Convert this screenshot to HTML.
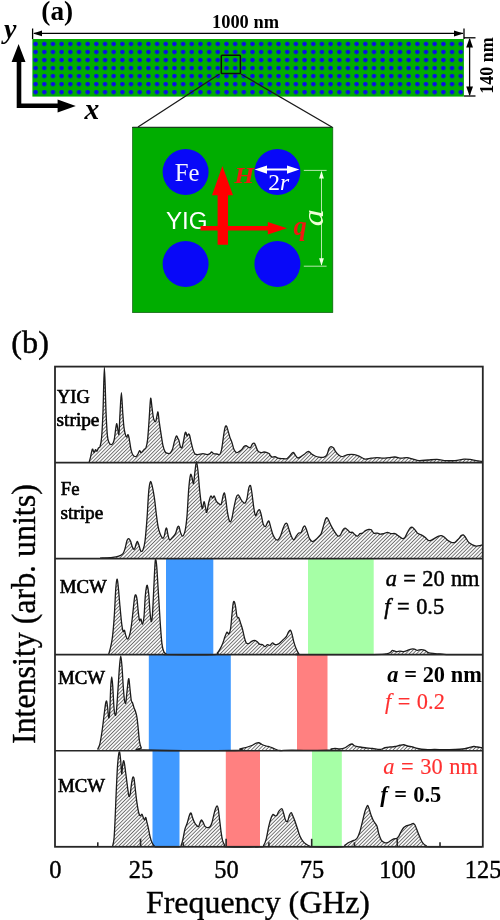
<!DOCTYPE html>
<html><head><meta charset="utf-8"><title>Figure</title>
<style>
html,body{margin:0;padding:0;background:#fff;}
body{width:500px;height:920px;overflow:hidden;}
svg{display:block;}
text{font-family:"Liberation Serif",serif;}
.b{font-weight:bold;}
.i{font-style:italic;}
.sans{font-family:"Liberation Sans",sans-serif;}
</style></head><body>
<svg width="500" height="920" viewBox="0 0 500 920">
<defs>
<pattern id="dots" x="31.262" y="40" width="8.676" height="8.03" patternUnits="userSpaceOnUse">
<ellipse cx="4.338" cy="4.02" rx="2.3" ry="2.15" fill="#0a0aec"/>
</pattern>
<pattern id="hatch" width="2.57" height="2.57" patternUnits="userSpaceOnUse" patternTransform="rotate(45)">
<line x1="1.28" y1="-1" x2="1.28" y2="4" stroke="#6a6a6a" stroke-width="0.95"/>
</pattern>
</defs>
<rect width="500" height="920" fill="#fff"/>

<text class="b" x="41.3" y="19.9" font-size="27.3">(a)</text>
<text class="b i" x="4" y="37.6" font-size="28">y</text>
<text class="b i" x="84.6" y="119" font-size="28.5" textLength="14.8" lengthAdjust="spacingAndGlyphs">x</text>
<path d="M16.7 108 V62 H11.6 L18.6 44 L25.5 62 H21.3 V103.4 H57.6 V99.6 L75.8 105.9 L57.6 112.5 V108 Z" fill="#000"/>
<rect x="32.4" y="39" width="431.5" height="57.6" fill="#00ad00"/>
<rect x="32.4" y="40" width="431.5" height="56.4" fill="url(#dots)"/>
<g stroke="#000" stroke-width="1.3" fill="none"><path d="M32.6 28.5 V39"/><path d="M464 28.5 V39"/><path d="M34 33.4 H463"/><path d="M464 37.8 H475.5"/><path d="M464 96 H475.5"/><path d="M469.6 39 V95"/></g>
<path d="M33 33.4 L42 30.6 V36.2 Z M463.6 33.4 L454 30.4 V36.4 Z M469.6 38 L466.2 47.5 H473 Z M469.6 96 L466.2 86.5 H473 Z" fill="#000"/>
<text class="b" x="212" y="27.6" font-size="18.3" textLength="67" lengthAdjust="spacingAndGlyphs">1000 nm</text>
<text class="b" font-size="18" text-anchor="middle" transform="translate(493.3,65.5) rotate(-90)">140 nm</text>
<rect x="221.3" y="55.2" width="19.1" height="18.4" rx="0.8" fill="none" stroke="#0c0c0c" stroke-width="1.5"/>
<path d="M219.6 74 L138 127 M240.8 74 L331.8 127" stroke="#1a1a1a" stroke-width="1.3" fill="none"/>
<rect x="132.6" y="127.4" width="200.2" height="185.2" fill="#00ad00" stroke="#0c5c0c" stroke-width="0.7"/>
<path d="M132.4 127.2 H333" stroke="#14301a" stroke-width="1.1" fill="none"/>
<circle cx="185.6" cy="172" r="23" fill="#0808f8"/>
<circle cx="277.4" cy="172" r="23" fill="#0808f8"/>
<circle cx="185.6" cy="264" r="23" fill="#0808f8"/>
<circle cx="277.4" cy="264" r="23" fill="#0808f8"/>
<text x="174.8" y="181" font-size="24.7" fill="#f4f4ff">Fe</text>
<text class="sans" x="166" y="228.6" font-size="23.5" fill="#fff" textLength="41.6" lengthAdjust="spacingAndGlyphs">YIG</text>
<path d="M217.6 244.7 V195.2 H212 L222.4 166 L233 195.2 H228 V244.7 Z" fill="#f00"/>
<path d="M200.5 225.9 H267.8 V221.9 L287 228.2 L267.8 234.5 V230.5 H200.5 Z" fill="#f00"/>
<text class="b i" x="234.3" y="183.4" font-size="24" fill="#ee1810" textLength="20" lengthAdjust="spacingAndGlyphs">H</text>
<text class="b i" x="293.6" y="235" font-size="26.5" fill="#ee1810">q</text>
<path d="M254.6 169.6 L267 165.4 V168.6 H287 V165.4 L299.4 169.6 L287 173.8 V170.6 H267 V173.8 Z" fill="#fff"/>
<text x="268.2" y="189.6" font-size="23.5" fill="#fff">2<tspan class="i">r</tspan></text>
<g stroke="#e4f8d8" stroke-width="0.8" fill="none"><path d="M303.8 170.4 H326.6"/><path d="M303.8 266.2 H326.6"/><path d="M321.5 172 V265"/></g>
<path d="M321.5 170.8 L319.1 178.4 H323.9 Z M321.5 265.8 L319.1 258.2 H323.9 Z" fill="#f4ffe8"/>
<text class="i" font-size="29.5" fill="#f0ffd8" text-anchor="middle" textLength="17" lengthAdjust="spacingAndGlyphs" transform="translate(323.4,217.8) rotate(-90)">a</text>
<text x="11.3" y="352.8" font-size="31.3" stroke="#000" stroke-width="0.45" textLength="37.6" lengthAdjust="spacingAndGlyphs">(b)</text>
<rect x="166.00" y="558.60" width="47.30" height="96.00" fill="#4099ff"/>
<rect x="308.00" y="558.60" width="65.70" height="96.00" fill="#a6ffa6"/>
<rect x="148.80" y="654.60" width="82.00" height="96.10" fill="#4099ff"/>
<rect x="297.00" y="654.60" width="30.50" height="96.10" fill="#ff8080"/>
<rect x="152.50" y="750.70" width="27.00" height="96.10" fill="#4099ff"/>
<rect x="225.80" y="750.70" width="34.20" height="96.10" fill="#ff8080"/>
<rect x="312.00" y="750.70" width="29.80" height="96.10" fill="#a6ffa6"/>
<path d="M89.00 462.60 C89.22 461.80 89.86 459.74 90.40 457.60 C90.94 455.46 91.82 450.00 92.40 449.20 C92.98 448.40 93.49 452.54 94.00 452.60 C94.51 452.66 95.12 449.82 95.60 449.60 C96.08 449.38 96.55 451.46 97.00 451.20 C97.45 450.94 97.92 448.74 98.40 448.00 C98.88 447.26 99.49 448.26 100.00 446.60 C100.51 444.94 101.12 443.20 101.60 437.60 C102.08 432.00 102.55 422.86 103.00 411.60 C103.45 400.34 103.92 367.20 104.40 367.20 C104.88 367.20 105.52 400.66 106.00 411.60 C106.48 422.54 106.92 430.64 107.40 435.60 C107.88 440.56 108.42 441.16 109.00 442.60 C109.58 444.04 110.36 444.50 111.00 444.60 C111.64 444.70 112.46 444.16 113.00 443.20 C113.54 442.24 113.98 440.78 114.40 438.60 C114.82 436.42 115.22 432.00 115.60 429.60 C115.98 427.20 116.42 423.44 116.80 423.60 C117.18 423.76 117.65 429.00 118.00 430.60 C118.35 432.20 118.68 436.32 119.00 433.60 C119.32 430.88 119.62 420.16 120.00 413.60 C120.38 407.04 120.95 392.60 121.40 392.60 C121.85 392.60 122.38 408.00 122.80 413.60 C123.22 419.20 123.58 424.24 124.00 427.60 C124.42 430.96 124.98 433.06 125.40 434.60 C125.82 436.14 126.18 437.20 126.60 437.20 C127.02 437.20 127.58 434.38 128.00 434.60 C128.42 434.82 128.72 436.20 129.20 438.60 C129.68 441.00 130.39 446.94 131.00 449.60 C131.61 452.26 132.20 454.08 133.00 455.20 C133.80 456.32 135.20 456.79 136.00 456.60 C136.80 456.41 137.42 454.96 138.00 454.00 C138.58 453.04 139.12 450.82 139.60 450.60 C140.08 450.38 140.55 452.44 141.00 452.60 C141.45 452.76 141.92 452.08 142.40 451.60 C142.88 451.12 143.42 450.24 144.00 449.60 C144.58 448.96 145.42 449.20 146.00 447.60 C146.58 446.00 147.12 443.76 147.60 439.60 C148.08 435.44 148.52 428.16 149.00 421.60 C149.48 415.04 150.12 400.84 150.60 398.60 C151.08 396.36 151.52 404.40 152.00 407.60 C152.48 410.80 153.02 416.36 153.60 418.60 C154.18 420.84 155.09 421.92 155.60 421.60 C156.11 421.28 156.42 418.14 156.80 416.60 C157.18 415.06 157.62 411.20 158.00 412.00 C158.38 412.80 158.72 418.14 159.20 421.60 C159.68 425.06 160.39 429.76 161.00 433.60 C161.61 437.44 162.36 442.72 163.00 445.60 C163.64 448.48 164.36 450.38 165.00 451.60 C165.64 452.82 166.20 452.94 167.00 453.20 C167.80 453.46 169.14 453.78 170.00 453.20 C170.86 452.62 171.70 451.46 172.40 449.60 C173.10 447.74 173.76 443.78 174.40 441.60 C175.04 439.42 175.82 436.48 176.40 436.00 C176.98 435.52 177.58 437.86 178.00 438.60 C178.42 439.34 178.62 439.32 179.00 440.60 C179.38 441.88 179.92 445.48 180.40 446.60 C180.88 447.72 181.52 448.40 182.00 447.60 C182.48 446.80 182.92 443.90 183.40 441.60 C183.88 439.30 184.58 434.64 185.00 433.20 C185.42 431.76 185.68 432.15 186.00 432.60 C186.32 433.05 186.62 435.78 187.00 436.00 C187.38 436.22 187.98 434.13 188.40 434.00 C188.82 433.87 189.18 433.98 189.60 435.20 C190.02 436.42 190.46 439.30 191.00 441.60 C191.54 443.90 192.36 447.62 193.00 449.60 C193.64 451.58 194.20 453.20 195.00 454.00 C195.80 454.80 196.72 454.66 198.00 454.60 C199.28 454.54 201.56 453.60 203.00 453.60 C204.44 453.60 205.88 454.60 207.00 454.60 C208.12 454.60 209.26 454.02 210.00 453.60 C210.74 453.18 211.02 452.00 211.60 452.00 C212.18 452.00 212.74 453.28 213.60 453.60 C214.46 453.92 216.04 453.84 217.00 454.00 C217.96 454.16 218.86 455.30 219.60 454.60 C220.34 453.90 220.96 452.64 221.60 449.60 C222.24 446.56 223.06 439.12 223.60 435.60 C224.14 432.08 224.55 429.14 225.00 427.60 C225.45 426.06 225.92 425.52 226.40 426.00 C226.88 426.48 227.42 428.74 228.00 430.60 C228.58 432.46 229.36 435.68 230.00 437.60 C230.64 439.52 231.36 440.68 232.00 442.60 C232.64 444.52 233.30 448.00 234.00 449.60 C234.70 451.20 235.60 452.28 236.40 452.60 C237.20 452.92 238.17 452.08 239.00 451.60 C239.83 451.12 240.80 450.40 241.60 449.60 C242.40 448.80 243.30 447.24 244.00 446.60 C244.70 445.96 245.30 445.50 246.00 445.60 C246.70 445.70 247.70 446.88 248.40 447.20 C249.10 447.52 249.76 448.11 250.40 447.60 C251.04 447.09 251.76 444.70 252.40 444.00 C253.04 443.30 253.82 442.78 254.40 443.20 C254.98 443.62 255.42 445.32 256.00 446.60 C256.58 447.88 257.20 450.24 258.00 451.20 C258.80 452.16 260.04 452.47 261.00 452.60 C261.96 452.73 263.04 452.00 264.00 452.00 C264.96 452.00 266.10 452.28 267.00 452.60 C267.90 452.92 269.12 453.58 269.60 454.00 C270.08 454.42 269.55 454.69 270.00 455.20 C270.45 455.71 271.60 456.98 272.40 457.20 C273.20 457.42 274.10 456.44 275.00 456.60 C275.90 456.76 276.88 457.88 278.00 458.20 C279.12 458.52 280.56 458.54 282.00 458.60 C283.44 458.66 285.72 459.08 287.00 458.60 C288.28 458.12 289.20 456.46 290.00 455.60 C290.80 454.74 291.42 453.68 292.00 453.20 C292.58 452.72 293.02 452.22 293.60 452.60 C294.18 452.98 294.90 454.74 295.60 455.60 C296.30 456.46 297.14 457.84 298.00 458.00 C298.86 458.16 300.04 457.14 301.00 456.60 C301.96 456.06 303.04 455.34 304.00 454.60 C304.96 453.86 306.20 452.48 307.00 452.00 C307.80 451.52 308.26 451.28 309.00 451.60 C309.74 451.92 310.64 453.30 311.60 454.00 C312.56 454.70 313.82 455.49 315.00 456.00 C316.18 456.51 317.56 457.01 319.00 457.20 C320.44 457.39 322.72 457.62 324.00 457.20 C325.28 456.78 326.20 455.98 327.00 454.60 C327.80 453.22 328.36 449.88 329.00 448.60 C329.64 447.32 330.26 446.70 331.00 446.60 C331.74 446.50 332.86 447.20 333.60 448.00 C334.34 448.80 334.74 450.45 335.60 451.60 C336.46 452.75 337.98 454.40 339.00 455.20 C340.02 456.00 341.04 456.54 342.00 456.60 C342.96 456.66 344.04 455.92 345.00 455.60 C345.96 455.28 346.48 454.76 348.00 454.60 C349.52 454.44 352.74 454.36 354.50 454.60 C356.26 454.84 357.32 455.38 359.00 456.10 C360.68 456.82 363.08 458.76 365.00 459.10 C366.92 459.44 369.08 458.44 371.00 458.20 C372.92 457.96 375.08 457.60 377.00 457.60 C378.92 457.60 381.08 458.20 383.00 458.20 C384.92 458.20 387.08 457.79 389.00 457.60 C390.92 457.41 393.08 456.90 395.00 457.00 C396.92 457.10 399.08 458.10 401.00 458.20 C402.92 458.30 405.08 457.46 407.00 457.60 C408.92 457.74 411.08 458.62 413.00 459.10 C414.92 459.58 416.60 460.46 419.00 460.60 C421.40 460.74 425.12 460.19 428.00 460.00 C430.88 459.81 434.12 459.30 437.00 459.40 C439.88 459.50 443.12 460.41 446.00 460.60 C448.88 460.79 452.12 460.84 455.00 460.60 C457.88 460.36 461.60 459.29 464.00 459.10 C466.40 458.91 468.08 459.16 470.00 459.40 C471.92 459.64 474.08 460.26 476.00 460.60 C477.92 460.94 481.04 461.36 482.00 461.50 L482.00 462.60 L89.00 462.60 Z" fill="url(#hatch)" stroke="none"/>
<path d="M89.00 462.60 C89.22 461.80 89.86 459.74 90.40 457.60 C90.94 455.46 91.82 450.00 92.40 449.20 C92.98 448.40 93.49 452.54 94.00 452.60 C94.51 452.66 95.12 449.82 95.60 449.60 C96.08 449.38 96.55 451.46 97.00 451.20 C97.45 450.94 97.92 448.74 98.40 448.00 C98.88 447.26 99.49 448.26 100.00 446.60 C100.51 444.94 101.12 443.20 101.60 437.60 C102.08 432.00 102.55 422.86 103.00 411.60 C103.45 400.34 103.92 367.20 104.40 367.20 C104.88 367.20 105.52 400.66 106.00 411.60 C106.48 422.54 106.92 430.64 107.40 435.60 C107.88 440.56 108.42 441.16 109.00 442.60 C109.58 444.04 110.36 444.50 111.00 444.60 C111.64 444.70 112.46 444.16 113.00 443.20 C113.54 442.24 113.98 440.78 114.40 438.60 C114.82 436.42 115.22 432.00 115.60 429.60 C115.98 427.20 116.42 423.44 116.80 423.60 C117.18 423.76 117.65 429.00 118.00 430.60 C118.35 432.20 118.68 436.32 119.00 433.60 C119.32 430.88 119.62 420.16 120.00 413.60 C120.38 407.04 120.95 392.60 121.40 392.60 C121.85 392.60 122.38 408.00 122.80 413.60 C123.22 419.20 123.58 424.24 124.00 427.60 C124.42 430.96 124.98 433.06 125.40 434.60 C125.82 436.14 126.18 437.20 126.60 437.20 C127.02 437.20 127.58 434.38 128.00 434.60 C128.42 434.82 128.72 436.20 129.20 438.60 C129.68 441.00 130.39 446.94 131.00 449.60 C131.61 452.26 132.20 454.08 133.00 455.20 C133.80 456.32 135.20 456.79 136.00 456.60 C136.80 456.41 137.42 454.96 138.00 454.00 C138.58 453.04 139.12 450.82 139.60 450.60 C140.08 450.38 140.55 452.44 141.00 452.60 C141.45 452.76 141.92 452.08 142.40 451.60 C142.88 451.12 143.42 450.24 144.00 449.60 C144.58 448.96 145.42 449.20 146.00 447.60 C146.58 446.00 147.12 443.76 147.60 439.60 C148.08 435.44 148.52 428.16 149.00 421.60 C149.48 415.04 150.12 400.84 150.60 398.60 C151.08 396.36 151.52 404.40 152.00 407.60 C152.48 410.80 153.02 416.36 153.60 418.60 C154.18 420.84 155.09 421.92 155.60 421.60 C156.11 421.28 156.42 418.14 156.80 416.60 C157.18 415.06 157.62 411.20 158.00 412.00 C158.38 412.80 158.72 418.14 159.20 421.60 C159.68 425.06 160.39 429.76 161.00 433.60 C161.61 437.44 162.36 442.72 163.00 445.60 C163.64 448.48 164.36 450.38 165.00 451.60 C165.64 452.82 166.20 452.94 167.00 453.20 C167.80 453.46 169.14 453.78 170.00 453.20 C170.86 452.62 171.70 451.46 172.40 449.60 C173.10 447.74 173.76 443.78 174.40 441.60 C175.04 439.42 175.82 436.48 176.40 436.00 C176.98 435.52 177.58 437.86 178.00 438.60 C178.42 439.34 178.62 439.32 179.00 440.60 C179.38 441.88 179.92 445.48 180.40 446.60 C180.88 447.72 181.52 448.40 182.00 447.60 C182.48 446.80 182.92 443.90 183.40 441.60 C183.88 439.30 184.58 434.64 185.00 433.20 C185.42 431.76 185.68 432.15 186.00 432.60 C186.32 433.05 186.62 435.78 187.00 436.00 C187.38 436.22 187.98 434.13 188.40 434.00 C188.82 433.87 189.18 433.98 189.60 435.20 C190.02 436.42 190.46 439.30 191.00 441.60 C191.54 443.90 192.36 447.62 193.00 449.60 C193.64 451.58 194.20 453.20 195.00 454.00 C195.80 454.80 196.72 454.66 198.00 454.60 C199.28 454.54 201.56 453.60 203.00 453.60 C204.44 453.60 205.88 454.60 207.00 454.60 C208.12 454.60 209.26 454.02 210.00 453.60 C210.74 453.18 211.02 452.00 211.60 452.00 C212.18 452.00 212.74 453.28 213.60 453.60 C214.46 453.92 216.04 453.84 217.00 454.00 C217.96 454.16 218.86 455.30 219.60 454.60 C220.34 453.90 220.96 452.64 221.60 449.60 C222.24 446.56 223.06 439.12 223.60 435.60 C224.14 432.08 224.55 429.14 225.00 427.60 C225.45 426.06 225.92 425.52 226.40 426.00 C226.88 426.48 227.42 428.74 228.00 430.60 C228.58 432.46 229.36 435.68 230.00 437.60 C230.64 439.52 231.36 440.68 232.00 442.60 C232.64 444.52 233.30 448.00 234.00 449.60 C234.70 451.20 235.60 452.28 236.40 452.60 C237.20 452.92 238.17 452.08 239.00 451.60 C239.83 451.12 240.80 450.40 241.60 449.60 C242.40 448.80 243.30 447.24 244.00 446.60 C244.70 445.96 245.30 445.50 246.00 445.60 C246.70 445.70 247.70 446.88 248.40 447.20 C249.10 447.52 249.76 448.11 250.40 447.60 C251.04 447.09 251.76 444.70 252.40 444.00 C253.04 443.30 253.82 442.78 254.40 443.20 C254.98 443.62 255.42 445.32 256.00 446.60 C256.58 447.88 257.20 450.24 258.00 451.20 C258.80 452.16 260.04 452.47 261.00 452.60 C261.96 452.73 263.04 452.00 264.00 452.00 C264.96 452.00 266.10 452.28 267.00 452.60 C267.90 452.92 269.12 453.58 269.60 454.00 C270.08 454.42 269.55 454.69 270.00 455.20 C270.45 455.71 271.60 456.98 272.40 457.20 C273.20 457.42 274.10 456.44 275.00 456.60 C275.90 456.76 276.88 457.88 278.00 458.20 C279.12 458.52 280.56 458.54 282.00 458.60 C283.44 458.66 285.72 459.08 287.00 458.60 C288.28 458.12 289.20 456.46 290.00 455.60 C290.80 454.74 291.42 453.68 292.00 453.20 C292.58 452.72 293.02 452.22 293.60 452.60 C294.18 452.98 294.90 454.74 295.60 455.60 C296.30 456.46 297.14 457.84 298.00 458.00 C298.86 458.16 300.04 457.14 301.00 456.60 C301.96 456.06 303.04 455.34 304.00 454.60 C304.96 453.86 306.20 452.48 307.00 452.00 C307.80 451.52 308.26 451.28 309.00 451.60 C309.74 451.92 310.64 453.30 311.60 454.00 C312.56 454.70 313.82 455.49 315.00 456.00 C316.18 456.51 317.56 457.01 319.00 457.20 C320.44 457.39 322.72 457.62 324.00 457.20 C325.28 456.78 326.20 455.98 327.00 454.60 C327.80 453.22 328.36 449.88 329.00 448.60 C329.64 447.32 330.26 446.70 331.00 446.60 C331.74 446.50 332.86 447.20 333.60 448.00 C334.34 448.80 334.74 450.45 335.60 451.60 C336.46 452.75 337.98 454.40 339.00 455.20 C340.02 456.00 341.04 456.54 342.00 456.60 C342.96 456.66 344.04 455.92 345.00 455.60 C345.96 455.28 346.48 454.76 348.00 454.60 C349.52 454.44 352.74 454.36 354.50 454.60 C356.26 454.84 357.32 455.38 359.00 456.10 C360.68 456.82 363.08 458.76 365.00 459.10 C366.92 459.44 369.08 458.44 371.00 458.20 C372.92 457.96 375.08 457.60 377.00 457.60 C378.92 457.60 381.08 458.20 383.00 458.20 C384.92 458.20 387.08 457.79 389.00 457.60 C390.92 457.41 393.08 456.90 395.00 457.00 C396.92 457.10 399.08 458.10 401.00 458.20 C402.92 458.30 405.08 457.46 407.00 457.60 C408.92 457.74 411.08 458.62 413.00 459.10 C414.92 459.58 416.60 460.46 419.00 460.60 C421.40 460.74 425.12 460.19 428.00 460.00 C430.88 459.81 434.12 459.30 437.00 459.40 C439.88 459.50 443.12 460.41 446.00 460.60 C448.88 460.79 452.12 460.84 455.00 460.60 C457.88 460.36 461.60 459.29 464.00 459.10 C466.40 458.91 468.08 459.16 470.00 459.40 C471.92 459.64 474.08 460.26 476.00 460.60 C477.92 460.94 481.04 461.36 482.00 461.50" fill="none" stroke="#1c1c1c" stroke-width="1.3" stroke-linejoin="round"/>
<path d="M100.00 558.10 C102.00 557.98 109.50 557.67 112.50 557.35 C115.50 557.03 117.07 556.70 118.75 556.10 C120.43 555.50 122.00 554.80 123.00 553.60 C124.00 552.40 124.36 550.68 125.00 548.60 C125.64 546.52 126.40 542.20 127.00 540.60 C127.60 539.00 128.19 538.52 128.75 538.60 C129.31 538.68 129.90 539.70 130.50 541.10 C131.10 542.50 131.86 546.07 132.50 547.35 C133.14 548.63 133.90 549.70 134.50 549.10 C135.10 548.50 135.77 544.80 136.25 543.60 C136.73 542.40 137.02 541.20 137.50 541.60 C137.98 542.00 138.73 544.58 139.25 546.10 C139.77 547.62 140.15 550.50 140.75 551.10 C141.35 551.70 142.32 551.45 143.00 549.85 C143.68 548.25 144.36 546.10 145.00 541.10 C145.64 536.10 146.40 526.60 147.00 518.60 C147.60 510.60 148.19 497.02 148.75 491.10 C149.31 485.18 149.90 482.20 150.50 481.60 C151.10 481.00 151.86 484.63 152.50 487.35 C153.14 490.07 153.90 494.40 154.50 498.60 C155.10 502.80 155.69 509.20 156.25 513.60 C156.81 518.00 157.40 522.90 158.00 526.10 C158.60 529.30 159.28 531.68 160.00 533.60 C160.72 535.52 161.82 537.70 162.50 538.10 C163.18 538.50 163.73 537.54 164.25 536.10 C164.77 534.66 165.35 530.30 165.75 529.10 C166.15 527.90 166.39 527.68 166.75 528.60 C167.11 529.52 167.56 533.05 168.00 534.85 C168.44 536.65 168.78 539.45 169.50 539.85 C170.22 540.25 171.54 538.35 172.50 537.35 C173.46 536.35 174.70 535.20 175.50 533.60 C176.30 532.00 176.94 528.47 177.50 527.35 C178.06 526.23 178.52 525.80 179.00 526.60 C179.48 527.40 179.94 530.83 180.50 532.35 C181.06 533.87 181.78 536.30 182.50 536.10 C183.22 535.90 184.28 534.30 185.00 531.10 C185.72 527.90 186.40 522.90 187.00 516.10 C187.60 509.30 188.19 495.20 188.75 488.60 C189.31 482.00 189.98 476.65 190.50 474.85 C191.02 473.05 191.52 475.95 192.00 477.35 C192.48 478.75 193.02 484.60 193.50 483.60 C193.98 482.60 194.52 474.62 195.00 471.10 C195.48 467.58 196.02 461.60 196.50 461.60 C196.98 461.60 197.52 466.78 198.00 471.10 C198.48 475.42 198.98 483.40 199.50 488.60 C200.02 493.80 200.77 500.40 201.25 503.60 C201.73 506.80 202.06 508.92 202.50 508.60 C202.94 508.28 203.52 501.80 204.00 501.60 C204.48 501.40 205.06 505.63 205.50 507.35 C205.94 509.07 206.23 513.15 206.75 512.35 C207.27 511.55 208.11 504.95 208.75 502.35 C209.39 499.75 210.15 496.78 210.75 496.10 C211.35 495.42 211.94 498.10 212.50 498.10 C213.06 498.10 213.65 495.62 214.25 496.10 C214.85 496.58 215.53 499.90 216.25 501.10 C216.97 502.30 217.95 503.12 218.75 503.60 C219.55 504.08 220.57 505.30 221.25 504.10 C221.93 502.90 222.48 497.86 223.00 496.10 C223.52 494.34 224.02 492.30 224.50 493.10 C224.98 493.90 225.52 498.02 226.00 501.10 C226.48 504.18 226.94 509.15 227.50 512.35 C228.06 515.55 228.86 519.90 229.50 521.10 C230.14 522.30 230.82 521.85 231.50 519.85 C232.18 517.85 232.99 512.20 233.75 508.60 C234.51 505.00 235.53 499.55 236.25 497.35 C236.97 495.15 237.57 494.65 238.25 494.85 C238.93 495.05 239.82 497.52 240.50 498.60 C241.18 499.68 241.78 500.88 242.50 501.60 C243.22 502.32 244.28 503.58 245.00 503.10 C245.72 502.62 246.40 501.00 247.00 498.60 C247.60 496.20 248.19 490.18 248.75 488.10 C249.31 486.02 249.98 484.72 250.50 485.60 C251.02 486.48 251.48 490.12 252.00 493.60 C252.52 497.08 253.19 503.83 253.75 507.35 C254.31 510.87 254.90 514.92 255.50 515.60 C256.10 516.28 256.86 512.52 257.50 511.60 C258.14 510.68 258.90 509.33 259.50 509.85 C260.10 510.37 260.65 512.57 261.25 514.85 C261.85 517.13 262.57 522.22 263.25 524.10 C263.93 525.98 264.82 526.88 265.50 526.60 C266.18 526.32 266.94 523.23 267.50 522.35 C268.06 521.47 268.48 520.30 269.00 521.10 C269.52 521.90 270.11 525.15 270.75 527.35 C271.39 529.55 272.24 532.97 273.00 534.85 C273.76 536.73 274.70 538.30 275.50 539.10 C276.30 539.90 277.20 540.33 278.00 539.85 C278.80 539.37 279.70 537.90 280.50 536.10 C281.30 534.30 282.28 530.52 283.00 528.60 C283.72 526.68 284.36 524.90 285.00 524.10 C285.64 523.30 286.40 522.88 287.00 523.60 C287.60 524.32 288.07 526.60 288.75 528.60 C289.43 530.60 290.45 534.30 291.25 536.10 C292.05 537.90 292.95 539.85 293.75 539.85 C294.55 539.85 295.45 537.18 296.25 536.10 C297.05 535.02 297.95 533.70 298.75 533.10 C299.55 532.50 300.53 533.27 301.25 532.35 C301.97 531.43 302.65 528.35 303.25 527.35 C303.85 526.35 304.40 525.50 305.00 526.10 C305.60 526.70 306.28 529.10 307.00 531.10 C307.72 533.10 308.62 536.92 309.50 538.60 C310.38 540.28 311.54 541.40 312.50 541.60 C313.46 541.80 314.50 540.65 315.50 539.85 C316.50 539.05 317.83 537.60 318.75 536.60 C319.67 535.60 320.45 535.48 321.25 533.60 C322.05 531.72 323.03 527.25 323.75 524.85 C324.47 522.45 325.15 519.68 325.75 518.60 C326.35 517.52 326.90 517.50 327.50 518.10 C328.10 518.70 328.78 520.87 329.50 522.35 C330.22 523.83 331.12 525.75 332.00 527.35 C332.88 528.95 334.04 530.95 335.00 532.35 C335.96 533.75 337.12 535.70 338.00 536.10 C338.88 536.50 339.70 535.85 340.50 534.85 C341.30 533.85 342.28 530.93 343.00 529.85 C343.72 528.77 344.28 528.10 345.00 528.10 C345.72 528.10 346.70 529.17 347.50 529.85 C348.30 530.53 349.20 531.95 350.00 532.35 C350.80 532.75 351.70 531.95 352.50 532.35 C353.30 532.75 354.20 534.25 355.00 534.85 C355.80 535.45 356.70 536.30 357.50 536.10 C358.30 535.90 359.20 534.08 360.00 533.60 C360.80 533.12 361.62 533.58 362.50 533.10 C363.38 532.62 364.50 531.20 365.50 530.60 C366.50 530.00 367.83 529.47 368.75 529.35 C369.67 529.23 370.45 529.25 371.25 529.85 C372.05 530.45 372.75 532.58 373.75 533.10 C374.75 533.62 376.50 532.94 377.50 533.10 C378.50 533.26 379.00 534.02 380.00 534.10 C381.00 534.18 382.55 533.88 383.75 533.60 C384.95 533.32 386.30 532.35 387.50 532.35 C388.70 532.35 390.05 533.40 391.25 533.60 C392.45 533.80 393.80 533.20 395.00 533.60 C396.20 534.00 397.55 535.30 398.75 536.10 C399.95 536.90 401.50 538.40 402.50 538.60 C403.50 538.80 404.20 538.35 405.00 537.35 C405.80 536.35 406.70 533.83 407.50 532.35 C408.30 530.87 409.20 528.90 410.00 528.10 C410.80 527.30 411.70 527.07 412.50 527.35 C413.30 527.63 414.12 528.85 415.00 529.85 C415.88 530.85 417.00 532.80 418.00 533.60 C419.00 534.40 420.13 534.25 421.25 534.85 C422.37 535.45 423.80 536.43 425.00 537.35 C426.20 538.27 427.63 540.20 428.75 540.60 C429.87 541.00 431.00 540.25 432.00 539.85 C433.00 539.45 433.92 538.70 435.00 538.10 C436.08 537.50 437.75 536.50 438.75 536.10 C439.75 535.70 440.33 535.40 441.25 535.60 C442.17 535.80 443.42 536.55 444.50 537.35 C445.58 538.15 446.92 539.80 448.00 540.60 C449.08 541.40 450.13 542.07 451.25 542.35 C452.37 542.63 453.80 542.95 455.00 542.35 C456.20 541.75 457.75 539.68 458.75 538.60 C459.75 537.52 460.53 536.20 461.25 535.60 C461.97 535.00 462.57 534.57 463.25 534.85 C463.93 535.13 464.62 536.15 465.50 537.35 C466.38 538.55 467.63 541.15 468.75 542.35 C469.87 543.55 471.30 544.25 472.50 544.85 C473.70 545.45 475.05 545.98 476.25 546.10 C477.45 546.22 479.08 545.80 480.00 545.60 C480.92 545.40 481.68 544.97 482.00 544.85 L482.00 558.60 L100.00 558.60 Z" fill="url(#hatch)" stroke="none"/>
<path d="M100.00 558.10 C102.00 557.98 109.50 557.67 112.50 557.35 C115.50 557.03 117.07 556.70 118.75 556.10 C120.43 555.50 122.00 554.80 123.00 553.60 C124.00 552.40 124.36 550.68 125.00 548.60 C125.64 546.52 126.40 542.20 127.00 540.60 C127.60 539.00 128.19 538.52 128.75 538.60 C129.31 538.68 129.90 539.70 130.50 541.10 C131.10 542.50 131.86 546.07 132.50 547.35 C133.14 548.63 133.90 549.70 134.50 549.10 C135.10 548.50 135.77 544.80 136.25 543.60 C136.73 542.40 137.02 541.20 137.50 541.60 C137.98 542.00 138.73 544.58 139.25 546.10 C139.77 547.62 140.15 550.50 140.75 551.10 C141.35 551.70 142.32 551.45 143.00 549.85 C143.68 548.25 144.36 546.10 145.00 541.10 C145.64 536.10 146.40 526.60 147.00 518.60 C147.60 510.60 148.19 497.02 148.75 491.10 C149.31 485.18 149.90 482.20 150.50 481.60 C151.10 481.00 151.86 484.63 152.50 487.35 C153.14 490.07 153.90 494.40 154.50 498.60 C155.10 502.80 155.69 509.20 156.25 513.60 C156.81 518.00 157.40 522.90 158.00 526.10 C158.60 529.30 159.28 531.68 160.00 533.60 C160.72 535.52 161.82 537.70 162.50 538.10 C163.18 538.50 163.73 537.54 164.25 536.10 C164.77 534.66 165.35 530.30 165.75 529.10 C166.15 527.90 166.39 527.68 166.75 528.60 C167.11 529.52 167.56 533.05 168.00 534.85 C168.44 536.65 168.78 539.45 169.50 539.85 C170.22 540.25 171.54 538.35 172.50 537.35 C173.46 536.35 174.70 535.20 175.50 533.60 C176.30 532.00 176.94 528.47 177.50 527.35 C178.06 526.23 178.52 525.80 179.00 526.60 C179.48 527.40 179.94 530.83 180.50 532.35 C181.06 533.87 181.78 536.30 182.50 536.10 C183.22 535.90 184.28 534.30 185.00 531.10 C185.72 527.90 186.40 522.90 187.00 516.10 C187.60 509.30 188.19 495.20 188.75 488.60 C189.31 482.00 189.98 476.65 190.50 474.85 C191.02 473.05 191.52 475.95 192.00 477.35 C192.48 478.75 193.02 484.60 193.50 483.60 C193.98 482.60 194.52 474.62 195.00 471.10 C195.48 467.58 196.02 461.60 196.50 461.60 C196.98 461.60 197.52 466.78 198.00 471.10 C198.48 475.42 198.98 483.40 199.50 488.60 C200.02 493.80 200.77 500.40 201.25 503.60 C201.73 506.80 202.06 508.92 202.50 508.60 C202.94 508.28 203.52 501.80 204.00 501.60 C204.48 501.40 205.06 505.63 205.50 507.35 C205.94 509.07 206.23 513.15 206.75 512.35 C207.27 511.55 208.11 504.95 208.75 502.35 C209.39 499.75 210.15 496.78 210.75 496.10 C211.35 495.42 211.94 498.10 212.50 498.10 C213.06 498.10 213.65 495.62 214.25 496.10 C214.85 496.58 215.53 499.90 216.25 501.10 C216.97 502.30 217.95 503.12 218.75 503.60 C219.55 504.08 220.57 505.30 221.25 504.10 C221.93 502.90 222.48 497.86 223.00 496.10 C223.52 494.34 224.02 492.30 224.50 493.10 C224.98 493.90 225.52 498.02 226.00 501.10 C226.48 504.18 226.94 509.15 227.50 512.35 C228.06 515.55 228.86 519.90 229.50 521.10 C230.14 522.30 230.82 521.85 231.50 519.85 C232.18 517.85 232.99 512.20 233.75 508.60 C234.51 505.00 235.53 499.55 236.25 497.35 C236.97 495.15 237.57 494.65 238.25 494.85 C238.93 495.05 239.82 497.52 240.50 498.60 C241.18 499.68 241.78 500.88 242.50 501.60 C243.22 502.32 244.28 503.58 245.00 503.10 C245.72 502.62 246.40 501.00 247.00 498.60 C247.60 496.20 248.19 490.18 248.75 488.10 C249.31 486.02 249.98 484.72 250.50 485.60 C251.02 486.48 251.48 490.12 252.00 493.60 C252.52 497.08 253.19 503.83 253.75 507.35 C254.31 510.87 254.90 514.92 255.50 515.60 C256.10 516.28 256.86 512.52 257.50 511.60 C258.14 510.68 258.90 509.33 259.50 509.85 C260.10 510.37 260.65 512.57 261.25 514.85 C261.85 517.13 262.57 522.22 263.25 524.10 C263.93 525.98 264.82 526.88 265.50 526.60 C266.18 526.32 266.94 523.23 267.50 522.35 C268.06 521.47 268.48 520.30 269.00 521.10 C269.52 521.90 270.11 525.15 270.75 527.35 C271.39 529.55 272.24 532.97 273.00 534.85 C273.76 536.73 274.70 538.30 275.50 539.10 C276.30 539.90 277.20 540.33 278.00 539.85 C278.80 539.37 279.70 537.90 280.50 536.10 C281.30 534.30 282.28 530.52 283.00 528.60 C283.72 526.68 284.36 524.90 285.00 524.10 C285.64 523.30 286.40 522.88 287.00 523.60 C287.60 524.32 288.07 526.60 288.75 528.60 C289.43 530.60 290.45 534.30 291.25 536.10 C292.05 537.90 292.95 539.85 293.75 539.85 C294.55 539.85 295.45 537.18 296.25 536.10 C297.05 535.02 297.95 533.70 298.75 533.10 C299.55 532.50 300.53 533.27 301.25 532.35 C301.97 531.43 302.65 528.35 303.25 527.35 C303.85 526.35 304.40 525.50 305.00 526.10 C305.60 526.70 306.28 529.10 307.00 531.10 C307.72 533.10 308.62 536.92 309.50 538.60 C310.38 540.28 311.54 541.40 312.50 541.60 C313.46 541.80 314.50 540.65 315.50 539.85 C316.50 539.05 317.83 537.60 318.75 536.60 C319.67 535.60 320.45 535.48 321.25 533.60 C322.05 531.72 323.03 527.25 323.75 524.85 C324.47 522.45 325.15 519.68 325.75 518.60 C326.35 517.52 326.90 517.50 327.50 518.10 C328.10 518.70 328.78 520.87 329.50 522.35 C330.22 523.83 331.12 525.75 332.00 527.35 C332.88 528.95 334.04 530.95 335.00 532.35 C335.96 533.75 337.12 535.70 338.00 536.10 C338.88 536.50 339.70 535.85 340.50 534.85 C341.30 533.85 342.28 530.93 343.00 529.85 C343.72 528.77 344.28 528.10 345.00 528.10 C345.72 528.10 346.70 529.17 347.50 529.85 C348.30 530.53 349.20 531.95 350.00 532.35 C350.80 532.75 351.70 531.95 352.50 532.35 C353.30 532.75 354.20 534.25 355.00 534.85 C355.80 535.45 356.70 536.30 357.50 536.10 C358.30 535.90 359.20 534.08 360.00 533.60 C360.80 533.12 361.62 533.58 362.50 533.10 C363.38 532.62 364.50 531.20 365.50 530.60 C366.50 530.00 367.83 529.47 368.75 529.35 C369.67 529.23 370.45 529.25 371.25 529.85 C372.05 530.45 372.75 532.58 373.75 533.10 C374.75 533.62 376.50 532.94 377.50 533.10 C378.50 533.26 379.00 534.02 380.00 534.10 C381.00 534.18 382.55 533.88 383.75 533.60 C384.95 533.32 386.30 532.35 387.50 532.35 C388.70 532.35 390.05 533.40 391.25 533.60 C392.45 533.80 393.80 533.20 395.00 533.60 C396.20 534.00 397.55 535.30 398.75 536.10 C399.95 536.90 401.50 538.40 402.50 538.60 C403.50 538.80 404.20 538.35 405.00 537.35 C405.80 536.35 406.70 533.83 407.50 532.35 C408.30 530.87 409.20 528.90 410.00 528.10 C410.80 527.30 411.70 527.07 412.50 527.35 C413.30 527.63 414.12 528.85 415.00 529.85 C415.88 530.85 417.00 532.80 418.00 533.60 C419.00 534.40 420.13 534.25 421.25 534.85 C422.37 535.45 423.80 536.43 425.00 537.35 C426.20 538.27 427.63 540.20 428.75 540.60 C429.87 541.00 431.00 540.25 432.00 539.85 C433.00 539.45 433.92 538.70 435.00 538.10 C436.08 537.50 437.75 536.50 438.75 536.10 C439.75 535.70 440.33 535.40 441.25 535.60 C442.17 535.80 443.42 536.55 444.50 537.35 C445.58 538.15 446.92 539.80 448.00 540.60 C449.08 541.40 450.13 542.07 451.25 542.35 C452.37 542.63 453.80 542.95 455.00 542.35 C456.20 541.75 457.75 539.68 458.75 538.60 C459.75 537.52 460.53 536.20 461.25 535.60 C461.97 535.00 462.57 534.57 463.25 534.85 C463.93 535.13 464.62 536.15 465.50 537.35 C466.38 538.55 467.63 541.15 468.75 542.35 C469.87 543.55 471.30 544.25 472.50 544.85 C473.70 545.45 475.05 545.98 476.25 546.10 C477.45 546.22 479.08 545.80 480.00 545.60 C480.92 545.40 481.68 544.97 482.00 544.85" fill="none" stroke="#1c1c1c" stroke-width="1.3" stroke-linejoin="round"/>
<path d="M108.75 654.10 C109.07 652.90 110.15 649.40 110.75 646.60 C111.35 643.80 111.94 641.40 112.50 636.60 C113.06 631.80 113.73 624.20 114.25 616.60 C114.77 609.00 115.31 595.10 115.75 589.10 C116.19 583.10 116.60 579.50 117.00 579.10 C117.40 578.70 117.77 582.20 118.25 586.60 C118.73 591.00 119.44 600.60 120.00 606.60 C120.56 612.60 121.23 620.10 121.75 624.10 C122.27 628.10 122.81 630.60 123.25 631.60 C123.69 632.60 124.10 629.75 124.50 630.35 C124.90 630.95 125.27 633.95 125.75 635.35 C126.23 636.75 126.90 639.10 127.50 639.10 C128.10 639.10 128.90 637.35 129.50 635.35 C130.10 633.35 130.69 630.40 131.25 626.60 C131.81 622.80 132.48 616.20 133.00 611.60 C133.52 607.00 134.06 600.53 134.50 597.85 C134.94 595.17 135.35 594.65 135.75 594.85 C136.15 595.05 136.60 596.42 137.00 599.10 C137.40 601.78 137.85 608.20 138.25 611.60 C138.65 615.00 139.06 619.15 139.50 620.35 C139.94 621.55 140.52 618.50 141.00 619.10 C141.48 619.70 142.02 624.50 142.50 624.10 C142.98 623.70 143.56 621.00 144.00 616.60 C144.44 612.20 144.85 601.40 145.25 596.60 C145.65 591.80 146.14 588.28 146.50 586.60 C146.86 584.92 147.14 584.90 147.50 586.10 C147.86 587.30 148.35 590.02 148.75 594.10 C149.15 598.18 149.60 607.20 150.00 611.60 C150.40 616.00 150.85 621.20 151.25 621.60 C151.65 622.00 152.10 619.30 152.50 614.10 C152.90 608.90 153.35 597.10 153.75 589.10 C154.15 581.10 154.68 568.82 155.00 564.10 C155.32 559.38 155.47 559.20 155.75 559.60 C156.03 560.00 156.39 562.28 156.75 566.60 C157.11 570.92 157.60 580.20 158.00 586.60 C158.40 593.00 158.85 600.20 159.25 606.60 C159.65 613.00 160.06 620.60 160.50 626.60 C160.94 632.60 161.48 640.10 162.00 644.10 C162.52 648.10 163.07 650.00 163.75 651.60 C164.43 653.20 165.65 653.62 166.25 654.10 C166.85 654.58 159.90 654.52 167.50 654.60 C175.10 654.68 205.75 654.88 213.75 654.60 C221.75 654.32 216.50 653.73 217.50 652.85 C218.50 651.97 219.20 650.50 220.00 649.10 C220.80 647.70 221.70 646.10 222.50 644.10 C223.30 642.10 224.28 638.52 225.00 636.60 C225.72 634.68 226.40 632.50 227.00 632.10 C227.60 631.70 228.19 634.58 228.75 634.10 C229.31 633.62 229.98 632.30 230.50 629.10 C231.02 625.90 231.56 618.30 232.00 614.10 C232.44 609.90 232.85 604.77 233.25 602.85 C233.65 600.93 234.10 601.30 234.50 602.10 C234.90 602.90 235.35 605.53 235.75 607.85 C236.15 610.17 236.52 615.00 237.00 616.60 C237.48 618.20 238.19 616.85 238.75 617.85 C239.31 618.85 239.90 621.05 240.50 622.85 C241.10 624.65 241.86 626.70 242.50 629.10 C243.14 631.50 243.90 635.65 244.50 637.85 C245.10 640.05 245.57 641.93 246.25 642.85 C246.93 643.77 247.95 643.80 248.75 643.60 C249.55 643.40 250.33 642.12 251.25 641.60 C252.17 641.08 253.58 640.35 254.50 640.35 C255.42 640.35 256.20 641.00 257.00 641.60 C257.80 642.20 258.62 643.62 259.50 644.10 C260.38 644.58 261.62 644.20 262.50 644.60 C263.38 645.00 264.20 646.60 265.00 646.60 C265.80 646.60 266.70 644.80 267.50 644.60 C268.30 644.40 269.20 645.63 270.00 645.35 C270.80 645.07 271.70 642.97 272.50 642.85 C273.30 642.73 274.12 644.40 275.00 644.60 C275.88 644.80 277.00 644.58 278.00 644.10 C279.00 643.62 280.33 642.40 281.25 641.60 C282.17 640.80 282.95 639.90 283.75 639.10 C284.55 638.30 285.45 637.80 286.25 636.60 C287.05 635.40 288.07 632.60 288.75 631.60 C289.43 630.60 289.98 629.95 290.50 630.35 C291.02 630.75 291.48 632.30 292.00 634.10 C292.52 635.90 293.07 639.20 293.75 641.60 C294.43 644.00 295.45 647.18 296.25 649.10 C297.05 651.02 297.95 652.72 298.75 653.60 C299.55 654.48 289.25 654.44 301.25 654.60 C313.25 654.76 359.95 654.76 373.75 654.60 C387.55 654.44 384.70 654.08 387.50 653.60 C390.30 653.12 390.45 652.12 391.25 651.60 C392.05 651.08 391.70 650.35 392.50 650.35 C393.30 650.35 395.05 651.48 396.25 651.60 C397.45 651.72 398.80 651.10 400.00 651.10 C401.20 651.10 402.55 651.72 403.75 651.60 C404.95 651.48 406.30 650.75 407.50 650.35 C408.70 649.95 410.13 649.30 411.25 649.10 C412.37 648.90 413.50 648.90 414.50 649.10 C415.50 649.30 416.42 650.27 417.50 650.35 C418.58 650.43 420.05 649.60 421.25 649.60 C422.45 649.60 423.80 649.83 425.00 650.35 C426.20 650.87 427.15 652.33 428.75 652.85 C430.35 653.37 432.80 653.40 435.00 653.60 C437.20 653.80 440.10 653.94 442.50 654.10 C444.90 654.26 443.68 654.52 450.00 654.60 C456.32 654.68 476.88 654.60 482.00 654.60 L482.00 654.60 L108.75 654.60 Z" fill="url(#hatch)" stroke="none"/>
<path d="M108.75 654.10 C109.07 652.90 110.15 649.40 110.75 646.60 C111.35 643.80 111.94 641.40 112.50 636.60 C113.06 631.80 113.73 624.20 114.25 616.60 C114.77 609.00 115.31 595.10 115.75 589.10 C116.19 583.10 116.60 579.50 117.00 579.10 C117.40 578.70 117.77 582.20 118.25 586.60 C118.73 591.00 119.44 600.60 120.00 606.60 C120.56 612.60 121.23 620.10 121.75 624.10 C122.27 628.10 122.81 630.60 123.25 631.60 C123.69 632.60 124.10 629.75 124.50 630.35 C124.90 630.95 125.27 633.95 125.75 635.35 C126.23 636.75 126.90 639.10 127.50 639.10 C128.10 639.10 128.90 637.35 129.50 635.35 C130.10 633.35 130.69 630.40 131.25 626.60 C131.81 622.80 132.48 616.20 133.00 611.60 C133.52 607.00 134.06 600.53 134.50 597.85 C134.94 595.17 135.35 594.65 135.75 594.85 C136.15 595.05 136.60 596.42 137.00 599.10 C137.40 601.78 137.85 608.20 138.25 611.60 C138.65 615.00 139.06 619.15 139.50 620.35 C139.94 621.55 140.52 618.50 141.00 619.10 C141.48 619.70 142.02 624.50 142.50 624.10 C142.98 623.70 143.56 621.00 144.00 616.60 C144.44 612.20 144.85 601.40 145.25 596.60 C145.65 591.80 146.14 588.28 146.50 586.60 C146.86 584.92 147.14 584.90 147.50 586.10 C147.86 587.30 148.35 590.02 148.75 594.10 C149.15 598.18 149.60 607.20 150.00 611.60 C150.40 616.00 150.85 621.20 151.25 621.60 C151.65 622.00 152.10 619.30 152.50 614.10 C152.90 608.90 153.35 597.10 153.75 589.10 C154.15 581.10 154.68 568.82 155.00 564.10 C155.32 559.38 155.47 559.20 155.75 559.60 C156.03 560.00 156.39 562.28 156.75 566.60 C157.11 570.92 157.60 580.20 158.00 586.60 C158.40 593.00 158.85 600.20 159.25 606.60 C159.65 613.00 160.06 620.60 160.50 626.60 C160.94 632.60 161.48 640.10 162.00 644.10 C162.52 648.10 163.07 650.00 163.75 651.60 C164.43 653.20 165.65 653.62 166.25 654.10 C166.85 654.58 159.90 654.52 167.50 654.60 C175.10 654.68 205.75 654.88 213.75 654.60 C221.75 654.32 216.50 653.73 217.50 652.85 C218.50 651.97 219.20 650.50 220.00 649.10 C220.80 647.70 221.70 646.10 222.50 644.10 C223.30 642.10 224.28 638.52 225.00 636.60 C225.72 634.68 226.40 632.50 227.00 632.10 C227.60 631.70 228.19 634.58 228.75 634.10 C229.31 633.62 229.98 632.30 230.50 629.10 C231.02 625.90 231.56 618.30 232.00 614.10 C232.44 609.90 232.85 604.77 233.25 602.85 C233.65 600.93 234.10 601.30 234.50 602.10 C234.90 602.90 235.35 605.53 235.75 607.85 C236.15 610.17 236.52 615.00 237.00 616.60 C237.48 618.20 238.19 616.85 238.75 617.85 C239.31 618.85 239.90 621.05 240.50 622.85 C241.10 624.65 241.86 626.70 242.50 629.10 C243.14 631.50 243.90 635.65 244.50 637.85 C245.10 640.05 245.57 641.93 246.25 642.85 C246.93 643.77 247.95 643.80 248.75 643.60 C249.55 643.40 250.33 642.12 251.25 641.60 C252.17 641.08 253.58 640.35 254.50 640.35 C255.42 640.35 256.20 641.00 257.00 641.60 C257.80 642.20 258.62 643.62 259.50 644.10 C260.38 644.58 261.62 644.20 262.50 644.60 C263.38 645.00 264.20 646.60 265.00 646.60 C265.80 646.60 266.70 644.80 267.50 644.60 C268.30 644.40 269.20 645.63 270.00 645.35 C270.80 645.07 271.70 642.97 272.50 642.85 C273.30 642.73 274.12 644.40 275.00 644.60 C275.88 644.80 277.00 644.58 278.00 644.10 C279.00 643.62 280.33 642.40 281.25 641.60 C282.17 640.80 282.95 639.90 283.75 639.10 C284.55 638.30 285.45 637.80 286.25 636.60 C287.05 635.40 288.07 632.60 288.75 631.60 C289.43 630.60 289.98 629.95 290.50 630.35 C291.02 630.75 291.48 632.30 292.00 634.10 C292.52 635.90 293.07 639.20 293.75 641.60 C294.43 644.00 295.45 647.18 296.25 649.10 C297.05 651.02 297.95 652.72 298.75 653.60 C299.55 654.48 289.25 654.44 301.25 654.60 C313.25 654.76 359.95 654.76 373.75 654.60 C387.55 654.44 384.70 654.08 387.50 653.60 C390.30 653.12 390.45 652.12 391.25 651.60 C392.05 651.08 391.70 650.35 392.50 650.35 C393.30 650.35 395.05 651.48 396.25 651.60 C397.45 651.72 398.80 651.10 400.00 651.10 C401.20 651.10 402.55 651.72 403.75 651.60 C404.95 651.48 406.30 650.75 407.50 650.35 C408.70 649.95 410.13 649.30 411.25 649.10 C412.37 648.90 413.50 648.90 414.50 649.10 C415.50 649.30 416.42 650.27 417.50 650.35 C418.58 650.43 420.05 649.60 421.25 649.60 C422.45 649.60 423.80 649.83 425.00 650.35 C426.20 650.87 427.15 652.33 428.75 652.85 C430.35 653.37 432.80 653.40 435.00 653.60 C437.20 653.80 440.10 653.94 442.50 654.10 C444.90 654.26 443.68 654.52 450.00 654.60 C456.32 654.68 476.88 654.60 482.00 654.60" fill="none" stroke="#1c1c1c" stroke-width="1.3" stroke-linejoin="round"/>
<path d="M97.50 749.50 C97.82 748.82 98.90 747.33 99.50 745.25 C100.10 743.17 100.69 739.90 101.25 736.50 C101.81 733.10 102.48 728.00 103.00 724.00 C103.52 720.00 104.06 714.90 104.50 711.50 C104.94 708.10 105.39 704.35 105.75 702.75 C106.11 701.15 106.43 700.50 106.75 701.50 C107.07 702.50 107.43 706.40 107.75 709.00 C108.07 711.60 108.43 717.35 108.75 717.75 C109.07 718.15 109.43 716.50 109.75 711.50 C110.07 706.50 110.43 692.02 110.75 686.50 C111.07 680.98 111.43 677.00 111.75 677.00 C112.07 677.00 112.39 681.58 112.75 686.50 C113.11 691.42 113.60 703.15 114.00 707.75 C114.40 712.35 114.85 714.85 115.25 715.25 C115.65 715.65 116.06 714.45 116.50 710.25 C116.94 706.05 117.52 696.00 118.00 689.00 C118.48 682.00 119.06 671.78 119.50 666.50 C119.94 661.22 120.35 656.00 120.75 656.00 C121.15 656.00 121.60 661.62 122.00 666.50 C122.40 671.38 122.85 681.10 123.25 686.50 C123.65 691.90 124.10 697.65 124.50 700.25 C124.90 702.85 125.35 704.15 125.75 702.75 C126.15 701.35 126.60 695.10 127.00 691.50 C127.40 687.90 127.93 682.17 128.25 680.25 C128.57 678.33 128.72 678.10 129.00 679.50 C129.28 680.90 129.64 685.68 130.00 689.00 C130.36 692.32 130.85 698.05 131.25 700.25 C131.65 702.45 132.06 701.55 132.50 702.75 C132.94 703.95 133.52 706.35 134.00 707.75 C134.48 709.15 135.02 709.90 135.50 711.50 C135.98 713.10 136.56 714.95 137.00 717.75 C137.44 720.55 137.85 725.20 138.25 729.00 C138.65 732.80 139.02 738.50 139.50 741.50 C139.98 744.50 140.57 746.39 141.25 747.75 C141.93 749.11 128.75 749.56 143.75 750.00 C158.75 750.44 219.60 750.66 235.00 750.50 C250.40 750.34 238.00 749.56 240.00 749.00 C242.00 748.44 245.50 747.60 247.50 747.00 C249.50 746.40 251.22 745.81 252.50 745.25 C253.78 744.69 254.50 743.90 255.50 743.50 C256.50 743.10 257.71 742.59 258.75 742.75 C259.79 742.91 260.80 743.98 262.00 744.50 C263.20 745.02 264.97 745.60 266.25 746.00 C267.53 746.40 268.60 746.52 270.00 747.00 C271.40 747.48 273.40 748.44 275.00 749.00 C276.60 749.56 277.40 750.30 280.00 750.50 C282.60 750.70 283.65 750.29 291.25 750.25 C298.85 750.21 321.10 750.45 327.50 750.25 C333.90 750.05 330.05 749.28 331.25 749.00 C332.45 748.72 333.60 748.50 335.00 748.50 C336.40 748.50 338.40 749.12 340.00 749.00 C341.60 748.88 343.60 748.35 345.00 747.75 C346.40 747.15 347.63 745.85 348.75 745.25 C349.87 744.65 351.00 743.88 352.00 744.00 C353.00 744.12 353.72 745.52 355.00 746.00 C356.28 746.48 358.40 746.72 360.00 747.00 C361.60 747.28 363.00 747.51 365.00 747.75 C367.00 747.99 370.10 748.22 372.50 748.50 C374.90 748.78 378.00 749.62 380.00 749.50 C382.00 749.38 383.40 748.15 385.00 747.75 C386.60 747.35 388.40 747.20 390.00 747.00 C391.60 746.80 393.40 746.78 395.00 746.50 C396.60 746.22 398.60 745.53 400.00 745.25 C401.40 744.97 402.55 744.63 403.75 744.75 C404.95 744.87 406.10 745.64 407.50 746.00 C408.90 746.36 410.90 746.60 412.50 747.00 C414.10 747.40 415.50 748.10 417.50 748.50 C419.50 748.90 422.20 749.34 425.00 749.50 C427.80 749.66 431.80 749.46 435.00 749.50 C438.20 749.54 441.80 749.75 445.00 749.75 C448.20 749.75 452.20 749.62 455.00 749.50 C457.80 749.38 460.30 749.28 462.50 749.00 C464.70 748.72 466.95 748.15 468.75 747.75 C470.55 747.35 472.35 746.62 473.75 746.50 C475.15 746.38 476.18 746.80 477.50 747.00 C478.82 747.20 481.28 747.63 482.00 747.75 L482.00 750.70 L97.50 750.70 Z" fill="url(#hatch)" stroke="none"/>
<path d="M97.50 749.50 C97.82 748.82 98.90 747.33 99.50 745.25 C100.10 743.17 100.69 739.90 101.25 736.50 C101.81 733.10 102.48 728.00 103.00 724.00 C103.52 720.00 104.06 714.90 104.50 711.50 C104.94 708.10 105.39 704.35 105.75 702.75 C106.11 701.15 106.43 700.50 106.75 701.50 C107.07 702.50 107.43 706.40 107.75 709.00 C108.07 711.60 108.43 717.35 108.75 717.75 C109.07 718.15 109.43 716.50 109.75 711.50 C110.07 706.50 110.43 692.02 110.75 686.50 C111.07 680.98 111.43 677.00 111.75 677.00 C112.07 677.00 112.39 681.58 112.75 686.50 C113.11 691.42 113.60 703.15 114.00 707.75 C114.40 712.35 114.85 714.85 115.25 715.25 C115.65 715.65 116.06 714.45 116.50 710.25 C116.94 706.05 117.52 696.00 118.00 689.00 C118.48 682.00 119.06 671.78 119.50 666.50 C119.94 661.22 120.35 656.00 120.75 656.00 C121.15 656.00 121.60 661.62 122.00 666.50 C122.40 671.38 122.85 681.10 123.25 686.50 C123.65 691.90 124.10 697.65 124.50 700.25 C124.90 702.85 125.35 704.15 125.75 702.75 C126.15 701.35 126.60 695.10 127.00 691.50 C127.40 687.90 127.93 682.17 128.25 680.25 C128.57 678.33 128.72 678.10 129.00 679.50 C129.28 680.90 129.64 685.68 130.00 689.00 C130.36 692.32 130.85 698.05 131.25 700.25 C131.65 702.45 132.06 701.55 132.50 702.75 C132.94 703.95 133.52 706.35 134.00 707.75 C134.48 709.15 135.02 709.90 135.50 711.50 C135.98 713.10 136.56 714.95 137.00 717.75 C137.44 720.55 137.85 725.20 138.25 729.00 C138.65 732.80 139.02 738.50 139.50 741.50 C139.98 744.50 140.57 746.39 141.25 747.75 C141.93 749.11 128.75 749.56 143.75 750.00 C158.75 750.44 219.60 750.66 235.00 750.50 C250.40 750.34 238.00 749.56 240.00 749.00 C242.00 748.44 245.50 747.60 247.50 747.00 C249.50 746.40 251.22 745.81 252.50 745.25 C253.78 744.69 254.50 743.90 255.50 743.50 C256.50 743.10 257.71 742.59 258.75 742.75 C259.79 742.91 260.80 743.98 262.00 744.50 C263.20 745.02 264.97 745.60 266.25 746.00 C267.53 746.40 268.60 746.52 270.00 747.00 C271.40 747.48 273.40 748.44 275.00 749.00 C276.60 749.56 277.40 750.30 280.00 750.50 C282.60 750.70 283.65 750.29 291.25 750.25 C298.85 750.21 321.10 750.45 327.50 750.25 C333.90 750.05 330.05 749.28 331.25 749.00 C332.45 748.72 333.60 748.50 335.00 748.50 C336.40 748.50 338.40 749.12 340.00 749.00 C341.60 748.88 343.60 748.35 345.00 747.75 C346.40 747.15 347.63 745.85 348.75 745.25 C349.87 744.65 351.00 743.88 352.00 744.00 C353.00 744.12 353.72 745.52 355.00 746.00 C356.28 746.48 358.40 746.72 360.00 747.00 C361.60 747.28 363.00 747.51 365.00 747.75 C367.00 747.99 370.10 748.22 372.50 748.50 C374.90 748.78 378.00 749.62 380.00 749.50 C382.00 749.38 383.40 748.15 385.00 747.75 C386.60 747.35 388.40 747.20 390.00 747.00 C391.60 746.80 393.40 746.78 395.00 746.50 C396.60 746.22 398.60 745.53 400.00 745.25 C401.40 744.97 402.55 744.63 403.75 744.75 C404.95 744.87 406.10 745.64 407.50 746.00 C408.90 746.36 410.90 746.60 412.50 747.00 C414.10 747.40 415.50 748.10 417.50 748.50 C419.50 748.90 422.20 749.34 425.00 749.50 C427.80 749.66 431.80 749.46 435.00 749.50 C438.20 749.54 441.80 749.75 445.00 749.75 C448.20 749.75 452.20 749.62 455.00 749.50 C457.80 749.38 460.30 749.28 462.50 749.00 C464.70 748.72 466.95 748.15 468.75 747.75 C470.55 747.35 472.35 746.62 473.75 746.50 C475.15 746.38 476.18 746.80 477.50 747.00 C478.82 747.20 481.28 747.63 482.00 747.75" fill="none" stroke="#1c1c1c" stroke-width="1.3" stroke-linejoin="round"/>
<path d="M112.50 846.80 C112.74 845.52 113.60 842.88 114.00 838.80 C114.40 834.72 114.64 828.90 115.00 821.30 C115.36 813.70 115.85 800.10 116.25 791.30 C116.65 782.50 117.10 772.30 117.50 766.30 C117.90 760.30 118.39 756.00 118.75 753.80 C119.11 751.60 119.43 751.35 119.75 752.55 C120.07 753.75 120.43 757.90 120.75 761.30 C121.07 764.70 121.47 773.00 121.75 773.80 C122.03 774.60 122.22 768.38 122.50 766.30 C122.78 764.22 123.18 761.20 123.50 760.80 C123.82 760.40 124.18 762.12 124.50 763.80 C124.82 765.48 125.18 768.90 125.50 771.30 C125.82 773.70 126.14 776.00 126.50 778.80 C126.86 781.60 127.35 786.00 127.75 788.80 C128.15 791.60 128.60 795.50 129.00 796.30 C129.40 797.10 129.85 795.80 130.25 793.80 C130.65 791.80 131.10 786.40 131.50 783.80 C131.90 781.20 132.35 778.43 132.75 777.55 C133.15 776.67 133.64 776.90 134.00 778.30 C134.36 779.70 134.64 783.22 135.00 786.30 C135.36 789.38 135.85 794.35 136.25 797.55 C136.65 800.75 137.06 803.70 137.50 806.30 C137.94 808.90 138.52 812.28 139.00 813.80 C139.48 815.32 140.02 815.72 140.50 815.80 C140.98 815.88 141.56 814.02 142.00 814.30 C142.44 814.58 142.85 816.63 143.25 817.55 C143.65 818.47 144.10 820.05 144.50 820.05 C144.90 820.05 145.35 817.15 145.75 817.55 C146.15 817.95 146.56 820.75 147.00 822.55 C147.44 824.35 148.02 826.60 148.50 828.80 C148.98 831.00 149.44 834.10 150.00 836.30 C150.56 838.50 151.28 840.95 152.00 842.55 C152.72 844.15 153.62 845.62 154.50 846.30 C155.38 846.98 153.62 846.72 157.50 846.80 C161.38 846.88 174.95 847.08 178.75 846.80 C182.55 846.52 180.57 846.33 181.25 845.05 C181.93 843.77 182.40 841.40 183.00 838.80 C183.60 836.20 184.36 831.20 185.00 828.80 C185.64 826.40 186.40 825.60 187.00 823.80 C187.60 822.00 188.27 819.15 188.75 817.55 C189.23 815.95 189.60 814.48 190.00 813.80 C190.40 813.12 190.85 812.70 191.25 813.30 C191.65 813.90 191.98 816.07 192.50 817.55 C193.02 819.03 193.78 821.23 194.50 822.55 C195.22 823.87 196.32 825.20 197.00 825.80 C197.68 826.40 198.19 827.02 198.75 826.30 C199.31 825.58 200.02 822.30 200.50 821.30 C200.98 820.30 201.31 819.85 201.75 820.05 C202.19 820.25 202.73 821.55 203.25 822.55 C203.77 823.55 204.32 825.50 205.00 826.30 C205.68 827.10 206.70 827.47 207.50 827.55 C208.30 827.63 209.28 827.60 210.00 826.80 C210.72 826.00 211.40 824.43 212.00 822.55 C212.60 820.67 213.19 817.25 213.75 815.05 C214.31 812.85 214.98 810.28 215.50 808.80 C216.02 807.32 216.56 805.80 217.00 805.80 C217.44 805.80 217.85 806.72 218.25 808.80 C218.65 810.88 219.06 815.20 219.50 818.80 C219.94 822.40 220.52 827.90 221.00 831.30 C221.48 834.70 221.94 837.85 222.50 840.05 C223.06 842.25 223.90 843.97 224.50 845.05 C225.10 846.13 220.57 846.52 226.25 846.80 C231.93 847.08 254.00 847.08 260.00 846.80 C266.00 846.52 262.75 846.33 263.75 845.05 C264.75 843.77 265.45 841.80 266.25 838.80 C267.05 835.80 267.95 829.70 268.75 826.30 C269.55 822.90 270.57 819.47 271.25 817.55 C271.93 815.63 272.40 814.58 273.00 814.30 C273.60 814.02 274.36 815.68 275.00 815.80 C275.64 815.92 276.40 815.77 277.00 815.05 C277.60 814.33 277.95 812.30 278.75 811.30 C279.55 810.30 281.20 808.40 282.00 808.80 C282.80 809.20 283.19 812.00 283.75 813.80 C284.31 815.60 284.90 818.85 285.50 820.05 C286.10 821.25 286.86 822.10 287.50 821.30 C288.14 820.50 288.90 816.45 289.50 815.05 C290.10 813.65 290.69 812.35 291.25 812.55 C291.81 812.75 292.40 814.90 293.00 816.30 C293.60 817.70 294.28 819.30 295.00 821.30 C295.72 823.30 296.70 826.40 297.50 828.80 C298.30 831.20 299.12 834.30 300.00 836.30 C300.88 838.30 302.00 840.02 303.00 841.30 C304.00 842.58 305.13 843.50 306.25 844.30 C307.37 845.10 309.08 845.90 310.00 846.30 C310.92 846.70 306.92 846.72 312.00 846.80 C317.08 846.88 336.47 847.08 341.75 846.80 C347.03 846.52 343.88 845.73 345.00 845.05 C346.12 844.37 347.55 843.23 348.75 842.55 C349.95 841.87 351.50 841.20 352.50 840.80 C353.50 840.40 354.20 840.57 355.00 840.05 C355.80 839.53 356.70 838.95 357.50 837.55 C358.30 836.15 359.20 833.90 360.00 831.30 C360.80 828.70 361.70 824.50 362.50 821.30 C363.30 818.10 364.28 813.70 365.00 811.30 C365.72 808.90 366.52 807.18 367.00 806.30 C367.48 805.42 367.60 805.20 368.00 805.80 C368.40 806.40 368.94 808.37 369.50 810.05 C370.06 811.73 370.82 814.50 371.50 816.30 C372.18 818.10 372.87 819.70 373.75 821.30 C374.63 822.90 376.20 824.30 377.00 826.30 C377.80 828.30 378.07 831.60 378.75 833.80 C379.43 836.00 380.33 838.65 381.25 840.05 C382.17 841.45 383.50 842.15 384.50 842.55 C385.50 842.95 386.54 842.83 387.50 842.55 C388.46 842.27 389.50 841.40 390.50 840.80 C391.50 840.20 392.71 839.20 393.75 838.80 C394.79 838.40 396.20 838.70 397.00 838.30 C397.80 837.90 398.07 837.42 398.75 836.30 C399.43 835.18 400.45 832.70 401.25 831.30 C402.05 829.90 402.95 828.43 403.75 827.55 C404.55 826.67 405.45 826.20 406.25 825.80 C407.05 825.40 407.95 825.29 408.75 825.05 C409.55 824.81 410.53 824.58 411.25 824.30 C411.97 824.02 412.65 823.18 413.25 823.30 C413.85 823.42 414.40 823.97 415.00 825.05 C415.60 826.13 416.28 828.25 417.00 830.05 C417.72 831.85 418.62 834.30 419.50 836.30 C420.38 838.30 421.42 841.03 422.50 842.55 C423.58 844.07 425.05 845.12 426.25 845.80 C427.45 846.48 421.08 846.64 430.00 846.80 C438.92 846.96 473.68 846.80 482.00 846.80 L482.00 846.80 L112.50 846.80 Z" fill="url(#hatch)" stroke="none"/>
<path d="M112.50 846.80 C112.74 845.52 113.60 842.88 114.00 838.80 C114.40 834.72 114.64 828.90 115.00 821.30 C115.36 813.70 115.85 800.10 116.25 791.30 C116.65 782.50 117.10 772.30 117.50 766.30 C117.90 760.30 118.39 756.00 118.75 753.80 C119.11 751.60 119.43 751.35 119.75 752.55 C120.07 753.75 120.43 757.90 120.75 761.30 C121.07 764.70 121.47 773.00 121.75 773.80 C122.03 774.60 122.22 768.38 122.50 766.30 C122.78 764.22 123.18 761.20 123.50 760.80 C123.82 760.40 124.18 762.12 124.50 763.80 C124.82 765.48 125.18 768.90 125.50 771.30 C125.82 773.70 126.14 776.00 126.50 778.80 C126.86 781.60 127.35 786.00 127.75 788.80 C128.15 791.60 128.60 795.50 129.00 796.30 C129.40 797.10 129.85 795.80 130.25 793.80 C130.65 791.80 131.10 786.40 131.50 783.80 C131.90 781.20 132.35 778.43 132.75 777.55 C133.15 776.67 133.64 776.90 134.00 778.30 C134.36 779.70 134.64 783.22 135.00 786.30 C135.36 789.38 135.85 794.35 136.25 797.55 C136.65 800.75 137.06 803.70 137.50 806.30 C137.94 808.90 138.52 812.28 139.00 813.80 C139.48 815.32 140.02 815.72 140.50 815.80 C140.98 815.88 141.56 814.02 142.00 814.30 C142.44 814.58 142.85 816.63 143.25 817.55 C143.65 818.47 144.10 820.05 144.50 820.05 C144.90 820.05 145.35 817.15 145.75 817.55 C146.15 817.95 146.56 820.75 147.00 822.55 C147.44 824.35 148.02 826.60 148.50 828.80 C148.98 831.00 149.44 834.10 150.00 836.30 C150.56 838.50 151.28 840.95 152.00 842.55 C152.72 844.15 153.62 845.62 154.50 846.30 C155.38 846.98 153.62 846.72 157.50 846.80 C161.38 846.88 174.95 847.08 178.75 846.80 C182.55 846.52 180.57 846.33 181.25 845.05 C181.93 843.77 182.40 841.40 183.00 838.80 C183.60 836.20 184.36 831.20 185.00 828.80 C185.64 826.40 186.40 825.60 187.00 823.80 C187.60 822.00 188.27 819.15 188.75 817.55 C189.23 815.95 189.60 814.48 190.00 813.80 C190.40 813.12 190.85 812.70 191.25 813.30 C191.65 813.90 191.98 816.07 192.50 817.55 C193.02 819.03 193.78 821.23 194.50 822.55 C195.22 823.87 196.32 825.20 197.00 825.80 C197.68 826.40 198.19 827.02 198.75 826.30 C199.31 825.58 200.02 822.30 200.50 821.30 C200.98 820.30 201.31 819.85 201.75 820.05 C202.19 820.25 202.73 821.55 203.25 822.55 C203.77 823.55 204.32 825.50 205.00 826.30 C205.68 827.10 206.70 827.47 207.50 827.55 C208.30 827.63 209.28 827.60 210.00 826.80 C210.72 826.00 211.40 824.43 212.00 822.55 C212.60 820.67 213.19 817.25 213.75 815.05 C214.31 812.85 214.98 810.28 215.50 808.80 C216.02 807.32 216.56 805.80 217.00 805.80 C217.44 805.80 217.85 806.72 218.25 808.80 C218.65 810.88 219.06 815.20 219.50 818.80 C219.94 822.40 220.52 827.90 221.00 831.30 C221.48 834.70 221.94 837.85 222.50 840.05 C223.06 842.25 223.90 843.97 224.50 845.05 C225.10 846.13 220.57 846.52 226.25 846.80 C231.93 847.08 254.00 847.08 260.00 846.80 C266.00 846.52 262.75 846.33 263.75 845.05 C264.75 843.77 265.45 841.80 266.25 838.80 C267.05 835.80 267.95 829.70 268.75 826.30 C269.55 822.90 270.57 819.47 271.25 817.55 C271.93 815.63 272.40 814.58 273.00 814.30 C273.60 814.02 274.36 815.68 275.00 815.80 C275.64 815.92 276.40 815.77 277.00 815.05 C277.60 814.33 277.95 812.30 278.75 811.30 C279.55 810.30 281.20 808.40 282.00 808.80 C282.80 809.20 283.19 812.00 283.75 813.80 C284.31 815.60 284.90 818.85 285.50 820.05 C286.10 821.25 286.86 822.10 287.50 821.30 C288.14 820.50 288.90 816.45 289.50 815.05 C290.10 813.65 290.69 812.35 291.25 812.55 C291.81 812.75 292.40 814.90 293.00 816.30 C293.60 817.70 294.28 819.30 295.00 821.30 C295.72 823.30 296.70 826.40 297.50 828.80 C298.30 831.20 299.12 834.30 300.00 836.30 C300.88 838.30 302.00 840.02 303.00 841.30 C304.00 842.58 305.13 843.50 306.25 844.30 C307.37 845.10 309.08 845.90 310.00 846.30 C310.92 846.70 306.92 846.72 312.00 846.80 C317.08 846.88 336.47 847.08 341.75 846.80 C347.03 846.52 343.88 845.73 345.00 845.05 C346.12 844.37 347.55 843.23 348.75 842.55 C349.95 841.87 351.50 841.20 352.50 840.80 C353.50 840.40 354.20 840.57 355.00 840.05 C355.80 839.53 356.70 838.95 357.50 837.55 C358.30 836.15 359.20 833.90 360.00 831.30 C360.80 828.70 361.70 824.50 362.50 821.30 C363.30 818.10 364.28 813.70 365.00 811.30 C365.72 808.90 366.52 807.18 367.00 806.30 C367.48 805.42 367.60 805.20 368.00 805.80 C368.40 806.40 368.94 808.37 369.50 810.05 C370.06 811.73 370.82 814.50 371.50 816.30 C372.18 818.10 372.87 819.70 373.75 821.30 C374.63 822.90 376.20 824.30 377.00 826.30 C377.80 828.30 378.07 831.60 378.75 833.80 C379.43 836.00 380.33 838.65 381.25 840.05 C382.17 841.45 383.50 842.15 384.50 842.55 C385.50 842.95 386.54 842.83 387.50 842.55 C388.46 842.27 389.50 841.40 390.50 840.80 C391.50 840.20 392.71 839.20 393.75 838.80 C394.79 838.40 396.20 838.70 397.00 838.30 C397.80 837.90 398.07 837.42 398.75 836.30 C399.43 835.18 400.45 832.70 401.25 831.30 C402.05 829.90 402.95 828.43 403.75 827.55 C404.55 826.67 405.45 826.20 406.25 825.80 C407.05 825.40 407.95 825.29 408.75 825.05 C409.55 824.81 410.53 824.58 411.25 824.30 C411.97 824.02 412.65 823.18 413.25 823.30 C413.85 823.42 414.40 823.97 415.00 825.05 C415.60 826.13 416.28 828.25 417.00 830.05 C417.72 831.85 418.62 834.30 419.50 836.30 C420.38 838.30 421.42 841.03 422.50 842.55 C423.58 844.07 425.05 845.12 426.25 845.80 C427.45 846.48 421.08 846.64 430.00 846.80 C438.92 846.96 473.68 846.80 482.00 846.80" fill="none" stroke="#1c1c1c" stroke-width="1.3" stroke-linejoin="round"/>
<g stroke="#262626" stroke-width="1.6" fill="none">
<rect x="55.0" y="366.6" width="427.8" height="480.2" stroke-width="1.8"/>
<path d="M55.0 462.6 H482.8"/>
<path d="M55.0 558.6 H482.8"/>
<path d="M55.0 654.6 H482.8"/>
<path d="M55.0 750.7 H482.8"/>
<path d="M97.78 846.8 V842.3"/>
<path d="M140.56 846.8 V838.8"/>
<path d="M183.34 846.8 V842.3"/>
<path d="M226.12 846.8 V838.8"/>
<path d="M268.90 846.8 V842.3"/>
<path d="M311.68 846.8 V838.8"/>
<path d="M354.46 846.8 V842.3"/>
<path d="M397.24 846.8 V838.8"/>
<path d="M440.02 846.8 V842.3"/>
</g>
<text x="55.3" y="877.8" font-size="24.4" text-anchor="middle" stroke="#000" stroke-width="0.4">0</text>
<text x="140.9" y="877.8" font-size="24.4" text-anchor="middle" stroke="#000" stroke-width="0.4">25</text>
<text x="226.4" y="877.8" font-size="24.4" text-anchor="middle" stroke="#000" stroke-width="0.4">50</text>
<text x="312.0" y="877.8" font-size="24.4" text-anchor="middle" stroke="#000" stroke-width="0.4">75</text>
<text x="397.5" y="877.8" font-size="24.4" text-anchor="middle" stroke="#000" stroke-width="0.4">100</text>
<text x="483.1" y="877.8" font-size="24.4" text-anchor="middle" stroke="#000" stroke-width="0.4">125</text>
<text x="146" y="912.6" font-size="31" textLength="224" lengthAdjust="spacingAndGlyphs" stroke="#000" stroke-width="0.35">Frequency (GHz)</text>
<text font-size="32.7" textLength="259.8" lengthAdjust="spacingAndGlyphs" stroke="#000" stroke-width="0.35" transform="translate(34.9,744) rotate(-90)">Intensity (arb. units)</text>
<text x="57" y="402.8" font-size="18.4" stroke="#000" stroke-width="0.65">YIG</text>
<text x="56.6" y="426.3" font-size="19.3" stroke="#000" stroke-width="0.65">stripe</text>
<text x="60.8" y="494.8" font-size="18.7" stroke="#000" stroke-width="0.65">Fe</text>
<text x="60.4" y="518.9" font-size="19.3" stroke="#000" stroke-width="0.65">stripe</text>
<text x="59.8" y="592.6" font-size="18.8" stroke="#000" stroke-width="0.65">MCW</text>
<text x="58.1" y="684.4" font-size="18.8" stroke="#000" stroke-width="0.65">MCW</text>
<text x="58.1" y="791.5" font-size="18.8" stroke="#000" stroke-width="0.65">MCW</text>
<text x="385.8" y="586.3" font-size="22.4" fill="#000" word-spacing="0.7" stroke="#000" stroke-width="0.45"><tspan class="i">a</tspan> = 20 nm</text>
<text x="384.3" y="613.8" font-size="22.4" fill="#000" word-spacing="0.9" stroke="#000" stroke-width="0.45"><tspan class="i">f</tspan> = 0.5</text>
<text x="387.3" y="681.6" font-size="22.4" fill="#000" word-spacing="0.1" class="b"><tspan class="i">a</tspan> = 20 nm</text>
<text x="385.0" y="708.8" font-size="22.4" fill="#ff3030" word-spacing="0.9" stroke="#ff3030" stroke-width="0.15"><tspan class="i">f</tspan> = 0.2</text>
<text x="383.2" y="774.4" font-size="22.4" fill="#ff3030" word-spacing="1.0" stroke="#ff3030" stroke-width="0.15"><tspan class="i">a</tspan> = 30 nm</text>
<text x="380.3" y="802.3" font-size="22.4" fill="#000" word-spacing="0.8" class="b"><tspan class="i">f</tspan> = 0.5</text>
</svg></body></html>
